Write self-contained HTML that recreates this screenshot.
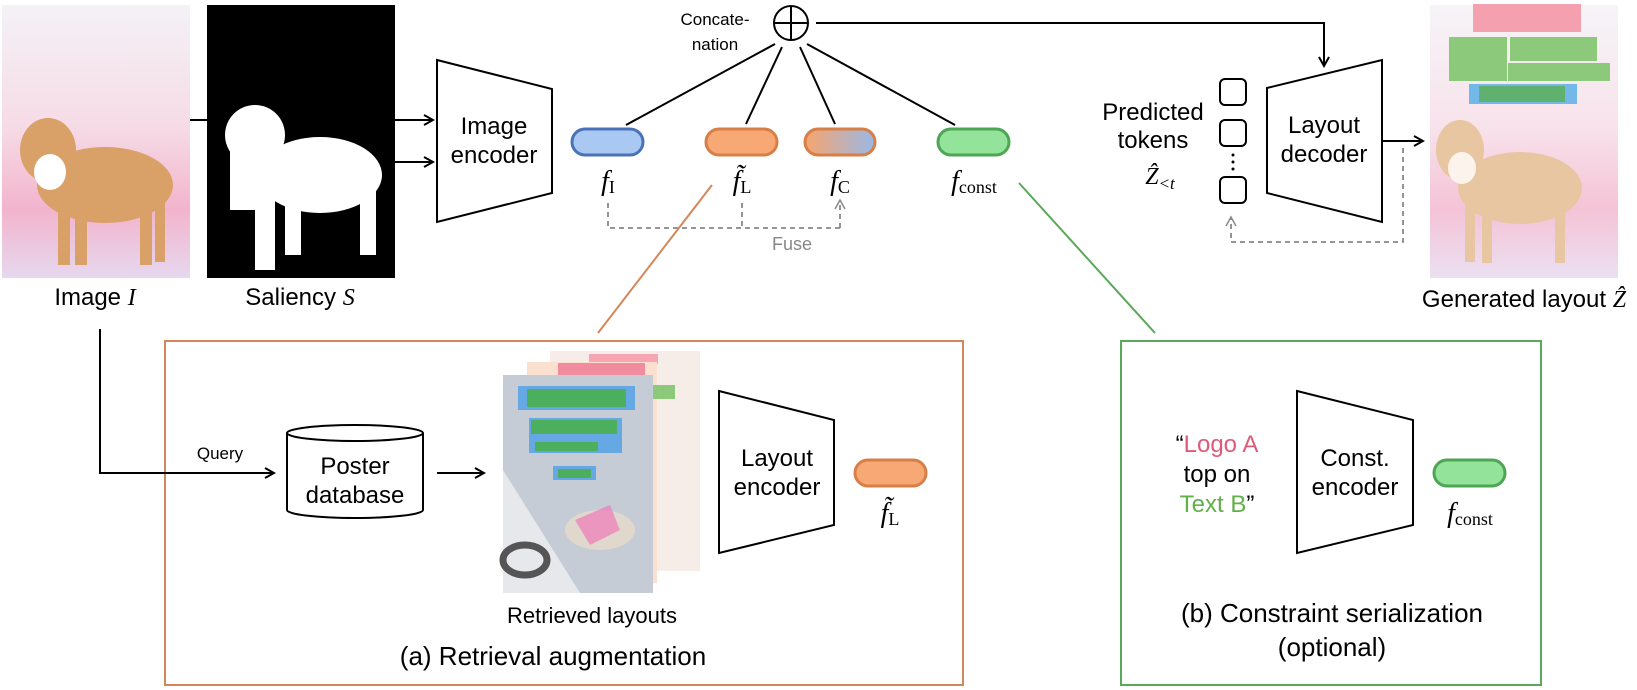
<!DOCTYPE html>
<html><head><meta charset="utf-8"><style>
body{margin:0;background:#fff}
svg{display:block;font-family:"Liberation Sans",sans-serif}
.m{font-family:"Liberation Serif",serif;font-style:italic}
</style></head><body>
<svg width="1637" height="690" viewBox="0 0 1637 690" xmlns="http://www.w3.org/2000/svg">
<defs>
<marker id="a" markerWidth="12" markerHeight="12" refX="10" refY="6" orient="auto" markerUnits="userSpaceOnUse"><path d="M1,1 L10,6 L1,11" fill="none" stroke="#000" stroke-width="2"/></marker>
<marker id="g" markerWidth="12" markerHeight="12" refX="10" refY="6" orient="auto" markerUnits="userSpaceOnUse"><path d="M1,1 L10,6 L1,11" fill="none" stroke="#888" stroke-width="1.5"/></marker>
<linearGradient id="bg" x1="0" y1="0" x2="0" y2="1"><stop offset="0" stop-color="#f4f2f6"/><stop offset=".45" stop-color="#f6dbe6"/><stop offset=".75" stop-color="#f2b4cc"/><stop offset="1" stop-color="#e6d8ef"/></linearGradient>
<linearGradient id="fc" x1="0" x2="1"><stop offset="0" stop-color="#f7a56e"/><stop offset="1" stop-color="#9ab8e6"/></linearGradient>
</defs>

<!-- Image I -->
<rect x="2" y="5" width="188" height="273" fill="url(#bg)"/>
<g fill="#d9a068"><ellipse cx="105" cy="185" rx="68" ry="38"/><ellipse cx="48" cy="150" rx="28" ry="32"/><rect x="58" y="200" width="12" height="65"/><rect x="75" y="205" width="12" height="60"/><rect x="140" y="205" width="12" height="60"/><rect x="155" y="200" width="10" height="62"/></g>
<ellipse cx="50" cy="172" rx="16" ry="18" fill="#fff"/>
<!-- Saliency -->
<rect x="207" y="5" width="188" height="273" fill="#000"/>
<g fill="#fff"><ellipse cx="255" cy="135" rx="30" ry="30"/><ellipse cx="320" cy="175" rx="62" ry="38"/><rect x="230" y="140" width="45" height="70"/><rect x="255" y="190" width="20" height="80"/><rect x="285" y="200" width="16" height="55"/><rect x="360" y="190" width="16" height="65"/></g>
<text x="95" y="305" font-size="24" text-anchor="middle">Image <tspan class="m">I</tspan></text>
<text x="300" y="305" font-size="24" text-anchor="middle">Saliency <tspan class="m">S</tspan></text>

<line x1="190" y1="120" x2="207" y2="120" stroke="#000" stroke-width="2"/>
<line x1="395" y1="120" x2="433" y2="120" stroke="#000" stroke-width="2" marker-end="url(#a)"/>
<line x1="395" y1="162" x2="433" y2="162" stroke="#000" stroke-width="2" marker-end="url(#a)"/>
<polygon points="437,60 552,89 552,193 437,222" fill="#fff" stroke="#000" stroke-width="2"/>
<text x="494" y="134" font-size="24" text-anchor="middle">Image</text>
<text x="494" y="163" font-size="24" text-anchor="middle">encoder</text>

<!-- concat -->
<g stroke="#000" stroke-width="2" fill="none">
<circle cx="791" cy="23" r="17" fill="#fff"/><line x1="774" y1="23" x2="808" y2="23"/><line x1="791" y1="6" x2="791" y2="40"/>
<line x1="775" y1="44" x2="626" y2="125"/><line x1="782" y1="47" x2="746" y2="124"/><line x1="800" y1="47" x2="835" y2="124"/><line x1="807" y1="44" x2="955" y2="125"/>
<polyline points="816,23 1324,23 1324,66" marker-end="url(#a)"/>
</g>
<text x="715" y="25" font-size="17" text-anchor="middle">Concate-</text>
<text x="715" y="50" font-size="17" text-anchor="middle">nation</text>

<rect x="572" y="129" width="71" height="26" rx="13" fill="#a9c8f2" stroke="#4a72b8" stroke-width="3"/>
<rect x="706" y="129" width="71" height="26" rx="13" fill="#f8a874" stroke="#d77f47" stroke-width="3"/>
<rect x="805" y="129" width="70" height="26" rx="13" fill="url(#fc)" stroke="#d77f47" stroke-width="3"/>
<rect x="938" y="129" width="71" height="26" rx="13" fill="#94e39a" stroke="#4ea655" stroke-width="3"/>
<text x="608" y="190" font-size="28" class="m" text-anchor="middle">f<tspan font-style="normal" font-size="18" dy="3">I</tspan></text>
<text x="742" y="190" font-size="28" class="m" text-anchor="middle">f̃<tspan font-style="normal" font-size="18" dy="3">L</tspan></text>
<text x="840" y="190" font-size="28" class="m" text-anchor="middle">f<tspan font-style="normal" font-size="18" dy="3">C</tspan></text>
<text x="974" y="190" font-size="28" class="m" text-anchor="middle">f<tspan font-style="normal" font-size="18" dy="3">const</tspan></text>

<g stroke="#888" stroke-width="1.8" stroke-dasharray="5,4" fill="none">
<polyline points="608,203 608,228 840,228"/><line x1="742" y1="203" x2="742" y2="228"/><line x1="840" y1="228" x2="840" y2="200" marker-end="url(#g)"/>
<polyline points="1403,148 1403,242 1231,242 1231,217" marker-end="url(#g)"/>
</g>
<text x="792" y="250" font-size="18" fill="#888" text-anchor="middle">Fuse</text>

<line x1="712" y1="185" x2="598" y2="333" stroke="#d4875a" stroke-width="2"/>
<line x1="1019" y1="183" x2="1155" y2="333" stroke="#5aa85a" stroke-width="2"/>

<!-- decoder side -->
<text x="1153" y="120" font-size="24" text-anchor="middle">Predicted</text>
<text x="1153" y="148" font-size="24" text-anchor="middle">tokens</text>
<text x="1160" y="184" font-size="24" class="m" text-anchor="middle">Ẑ<tspan font-size="17" dy="5">&lt;t</tspan></text>
<g fill="#fff" stroke="#000" stroke-width="2">
<rect x="1220" y="79" width="26" height="26" rx="5"/><rect x="1220" y="120" width="26" height="26" rx="5"/><rect x="1220" y="177" width="26" height="26" rx="5"/>
</g>
<g fill="#000"><circle cx="1233" cy="155" r="1.5"/><circle cx="1233" cy="162" r="1.5"/><circle cx="1233" cy="169" r="1.5"/></g>
<polygon points="1267,88 1382,60 1382,222 1267,193" fill="#fff" stroke="#000" stroke-width="2"/>
<text x="1324" y="133" font-size="24" text-anchor="middle">Layout</text>
<text x="1324" y="162" font-size="24" text-anchor="middle">decoder</text>
<line x1="1382" y1="141" x2="1423" y2="141" stroke="#000" stroke-width="2" marker-end="url(#a)"/>

<rect x="1430" y="5" width="188" height="273" fill="url(#bg)" opacity=".8"/>
<g fill="#e8c6a2"><ellipse cx="1520" cy="188" rx="62" ry="36"/><ellipse cx="1460" cy="150" rx="24" ry="30"/><rect x="1465" y="200" width="10" height="62"/><rect x="1482" y="205" width="10" height="58"/><rect x="1555" y="205" width="10" height="58"/></g>
<ellipse cx="1462" cy="168" rx="14" ry="16" fill="#fbf3ec"/>
<rect x="1473" y="4" width="108" height="28" fill="#f5a0ae"/>
<rect x="1449" y="37" width="58" height="44" fill="#8cc97a"/>
<rect x="1510" y="37" width="87" height="24" fill="#8cc97a"/>
<rect x="1508" y="63" width="102" height="18" fill="#8cc97a"/>
<rect x="1469" y="84" width="108" height="20" fill="#72b8e8"/>
<rect x="1479" y="86" width="86" height="16" fill="#60b070"/>
<text x="1524" y="307" font-size="24" text-anchor="middle">Generated layout <tspan class="m">Ẑ</tspan></text>

<!-- box a -->
<rect x="165" y="341" width="798" height="344" fill="none" stroke="#d4875a" stroke-width="2"/>
<polyline points="100,329 100,473 274,473" fill="none" stroke="#000" stroke-width="2" marker-end="url(#a)"/>
<text x="220" y="459" font-size="17" text-anchor="middle">Query</text>
<path d="M287,433 L287,510 A68,8 0 0 0 423,510 L423,433" fill="#fff" stroke="#000" stroke-width="2"/>
<ellipse cx="355" cy="433" rx="68" ry="8" fill="#fff" stroke="#000" stroke-width="2"/>
<text x="355" y="474" font-size="24" text-anchor="middle">Poster</text>
<text x="355" y="503" font-size="24" text-anchor="middle">database</text>
<line x1="437" y1="473" x2="484" y2="473" stroke="#000" stroke-width="2" marker-end="url(#a)"/>

<rect x="550" y="351" width="150" height="220" fill="#f6ece8"/>
<rect x="589" y="354" width="69" height="10" fill="#f6a6b2"/>
<rect x="527" y="362" width="130" height="221" fill="#fbe0d0"/>
<rect x="558" y="363" width="87" height="12" fill="#f08c9e"/>
<rect x="653" y="385" width="22" height="14" fill="#8cc97a"/>
<rect x="503" y="375" width="150" height="218" fill="#c5ccd5"/>
<path d="M503,470 L580,593 L503,593Z" fill="#e6e8ec"/>
<rect x="518" y="386" width="117" height="24" fill="#66a8e4"/><rect x="527" y="389" width="99" height="18" fill="#4caf5e"/>
<rect x="529" y="418" width="93" height="35" fill="#66a8e4"/><rect x="531" y="420" width="86" height="14" fill="#4caf5e"/><rect x="535" y="442" width="63" height="9" fill="#4caf5e"/>
<rect x="553" y="466" width="43" height="14" fill="#66a8e4"/><rect x="558" y="469" width="33" height="9" fill="#4caf5e"/>
<ellipse cx="600" cy="530" rx="35" ry="20" fill="#e0d8cc"/><path d="M575,520 L610,505 L620,530 L590,545Z" fill="#f07ab8" opacity=".7"/>
<ellipse cx="525" cy="560" rx="22" ry="15" fill="none" stroke="#555" stroke-width="7"/>
<text x="592" y="623" font-size="22" text-anchor="middle">Retrieved layouts</text>
<polygon points="719,391 834,420 834,525 719,553" fill="#fff" stroke="#000" stroke-width="2"/>
<text x="777" y="466" font-size="24" text-anchor="middle">Layout</text>
<text x="777" y="495" font-size="24" text-anchor="middle">encoder</text>
<rect x="855" y="460" width="71" height="26" rx="13" fill="#f8a874" stroke="#d77f47" stroke-width="3"/>
<text x="890" y="522" font-size="28" class="m" text-anchor="middle">f̃<tspan font-style="normal" font-size="18" dy="3">L</tspan></text>
<text x="553" y="665" font-size="26" text-anchor="middle">(a) Retrieval augmentation</text>

<!-- box b -->
<rect x="1121" y="341" width="420" height="344" fill="none" stroke="#5aa85a" stroke-width="2"/>
<text x="1217" y="452" font-size="24" text-anchor="middle">“<tspan fill="#e05a7a">Logo A</tspan></text>
<text x="1217" y="482" font-size="24" text-anchor="middle">top on</text>
<text x="1217" y="512" font-size="24" text-anchor="middle"><tspan fill="#62b04a">Text B</tspan>”</text>
<polygon points="1297,391 1413,420 1413,525 1297,553" fill="#fff" stroke="#000" stroke-width="2"/>
<text x="1355" y="466" font-size="24" text-anchor="middle">Const.</text>
<text x="1355" y="495" font-size="24" text-anchor="middle">encoder</text>
<rect x="1434" y="460" width="71" height="26" rx="13" fill="#94e39a" stroke="#4ea655" stroke-width="3"/>
<text x="1470" y="522" font-size="28" class="m" text-anchor="middle">f<tspan font-style="normal" font-size="18" dy="3">const</tspan></text>
<text x="1332" y="622" font-size="26" text-anchor="middle">(b) Constraint serialization</text>
<text x="1332" y="656" font-size="26" text-anchor="middle">(optional)</text>
</svg>
</body></html>
